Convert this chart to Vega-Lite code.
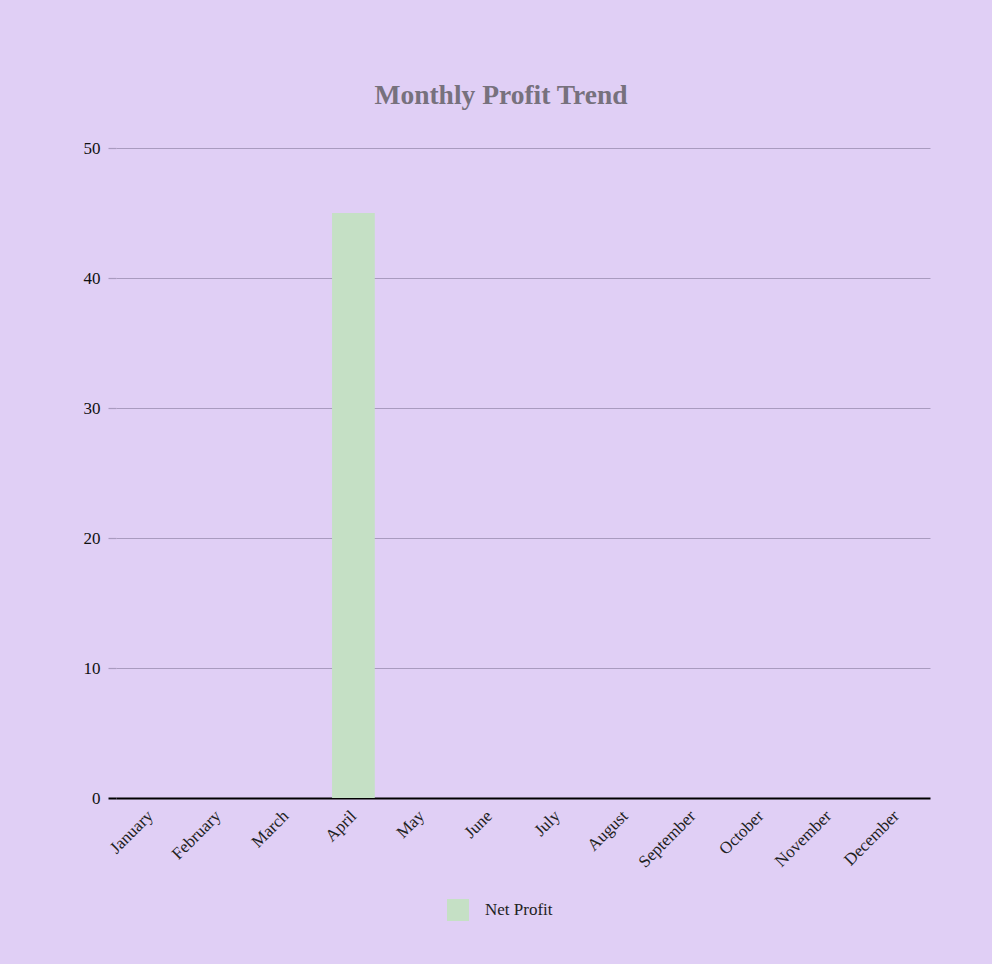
{
  "$schema": "https://vega.github.io/schema/vega-lite/v6.json",
  "width": 814,
  "height": 650,
  "padding": {"left": 83, "top": 81, "right": 62, "bottom": 60},
  "background": "#e0cff5",
  "title": {"text": "Monthly Profit Trend", "font": "Liberation Serif", "fontSize": 27.5, "fontWeight": "bold", "color": "#77717d", "anchor": "middle", "offset": 30, "dx": -22},
  "data": {"values": [
    {"month": "January", "value": 0, "series": "Net Profit"},
    {"month": "February", "value": 0, "series": "Net Profit"},
    {"month": "March", "value": 0, "series": "Net Profit"},
    {"month": "April", "value": 45, "series": "Net Profit"},
    {"month": "May", "value": 0, "series": "Net Profit"},
    {"month": "June", "value": 0, "series": "Net Profit"},
    {"month": "July", "value": 0, "series": "Net Profit"},
    {"month": "August", "value": 0, "series": "Net Profit"},
    {"month": "September", "value": 0, "series": "Net Profit"},
    {"month": "October", "value": 0, "series": "Net Profit"},
    {"month": "November", "value": 0, "series": "Net Profit"},
    {"month": "December", "value": 0, "series": "Net Profit"}
  ]},
  "mark": {"type": "bar"},
  "encoding": {
    "x": {"field": "month", "type": "nominal", "sort": null,
      "scale": {"paddingInner": 0.37, "paddingOuter": 0.185},
      "axis": {"title": null, "labelAngle": -45, "labelFont": "Liberation Serif", "labelFontSize": 17, "labelColor": "#222", "domain": false, "ticks": false, "labelPadding": 15, "labelAlign": "right", "labelBaseline": "middle", "labelOffset": 0.5}},
    "y": {"field": "value", "type": "quantitative", "scale": {"domain": [0, 50]},
      "axis": {"title": null, "values": [0, 10, 20, 30, 40, 50], "labelFont": "Liberation Serif", "labelFontSize": 17, "labelColor": "#111", "domain": false, "tickSize": 8, "labelPadding": 8,
        "tickColor": {"condition": {"test": "datum.value === 0", "value": "#000000"}, "value": "#a99bbf"},
        "gridColor": {"condition": {"test": "datum.value === 0", "value": "#000000"}, "value": "#a99bbf"},
        "tickWidth": {"condition": {"test": "datum.value === 0", "value": 2}, "value": 1.2},
        "gridWidth": {"condition": {"test": "datum.value === 0", "value": 2}, "value": 1.2}}},
    "color": {"field": "series", "type": "nominal", "scale": {"range": ["#c5e0c5"]},
      "legend": {"title": null, "orient": "none", "legendX": 331, "legendY": 751, "symbolType": "square", "symbolSize": 484, "symbolStrokeWidth": 0, "labelFont": "Liberation Serif", "labelFontSize": 17, "labelColor": "#222", "labelOffset": 16}}
  },
  "config": {"view": {"stroke": null}}
}
